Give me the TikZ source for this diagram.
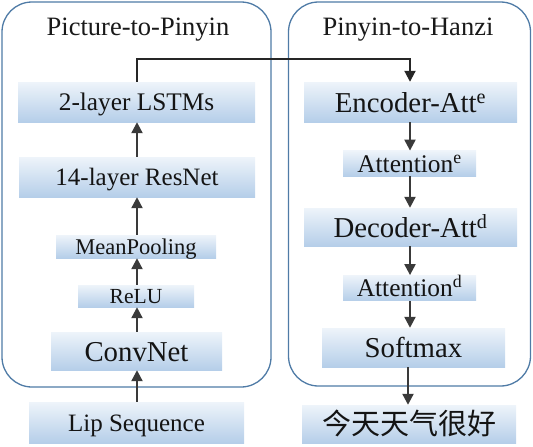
\documentclass[tikz,border=0pt]{standalone}
\usepackage{fontspec}
\setmainfont{Liberation Serif}
\newfontfamily\cjkfont{Noto Sans CJK SC}
\usetikzlibrary{arrows.meta}
\definecolor{panelc}{HTML}{4F7BA6}
\definecolor{boxtop}{HTML}{EEF4FA}
\definecolor{boxbot}{HTML}{B5CEE9}
\definecolor{arrc}{HTML}{3A3A3A}
\newcommand{\fsz}[1]{\fontsize{#1}{#1}\selectfont}
\tikzset{
  panel/.style={draw=panelc, line width=1.3pt, rounded corners=30pt, inner sep=0pt},
  box/.style={top color=boxtop, bottom color=boxbot, inner sep=0pt, text=black!92, align=center},
  tb/.style={font=\fsz{#1},
    /utils/exec={\pgfmathsetmacro\mytxtht{0.85*#1}\pgfmathsetmacro\mytxtdp{0.15*#1}},
    text height=\mytxtht pt, text depth=\mytxtdp pt},
  ttl/.style={font=\fsz{26.5}, text=black!90, anchor=base},
  flow/.style={draw=arrc, line width=2.2pt, -{Triangle[width=11pt,length=11pt]}},
  link/.style={draw=black, line width=2pt, -{Triangle[width=11pt,length=11pt]}, color=black!85},
}
\begin{document}
\begin{tikzpicture}[x=1pt,y=-1pt]
\useasboundingbox (0,0) rectangle (533,447);
% panels
\node[panel, minimum width=269pt, minimum height=385pt] (lpanel) at (136.5,194.5) {};
\node[panel, minimum width=242pt, minimum height=384pt] (rpanel) at (409.5,194) {};
\node[ttl] (ltitle) at (138,35) {Picture-to-Pinyin};
\node[ttl] (rtitle) at (408,35) {Pinyin-to-Hanzi};
% left column
\node[box, tb=25.3, minimum width=237pt, minimum height=40pt] (lstm) at (136.5,102) {2-layer LSTMs};
\node[box, tb=25, minimum width=236pt, minimum height=40pt] (resnet) at (137,177) {14-layer ResNet};
\node[box, tb=22.5, minimum width=160pt, minimum height=23pt] (pool) at (136,246.5) {MeanPooling};
\node[box, tb=21.5, minimum width=116pt, minimum height=22pt] (relu) at (136,296) {ReLU};
\node[box, tb=28.8, minimum width=171pt, minimum height=38pt] (conv) at (136.5,351) {ConvNet};
\node[box, tb=25, minimum width=215pt, minimum height=41pt] (lip) at (136.5,422.5) {Lip Sequence};
% right column
\node[box, tb=28.8, minimum width=213pt, minimum height=40pt] (enc) at (410.5,102) {Encoder-Att\textsuperscript{e}};
\node[box, tb=25.4, minimum width=133pt, minimum height=23pt] (atte) at (409.5,163.5) {Attention\textsuperscript{e}};
\node[box, tb=28.8, minimum width=213pt, minimum height=38pt] (dec) at (410.5,227) {Decoder-Att\textsuperscript{d}};
\node[box, tb=25.4, minimum width=133pt, minimum height=22pt] (attd) at (409.5,288) {Attention\textsuperscript{d}};
\node[box, tb=28.8, minimum width=183pt, minimum height=39pt] (soft) at (413.5,347.5) {Softmax};
\node[box, tb=29, minimum width=214pt, minimum height=38pt] (out) at (409,424) {\cjkfont 今天天气很好};
% connectors
\draw[flow] (resnet.north -| 137,0) -- (lstm.south -| 137,0);
\draw[flow] (pool.north -| 137,0) -- (resnet.south -| 137,0);
\draw[flow] (relu.north -| 137,0) -- (pool.south -| 137,0);
\draw[flow] (conv.north -| 137,0) -- (relu.south -| 137,0);
\draw[flow] (lip.north -| 137,0) -- (conv.south -| 137,0);
\draw[link] (lstm.north -| 137,0) -- (137,59) -- (410,59) -- (enc.north -| 410,0);
\draw[flow] (enc.south -| 410,0) -- (atte.north -| 410,0);
\draw[flow] (atte.south -| 410,0) -- (dec.north -| 410,0);
\draw[flow] (dec.south -| 410,0) -- (attd.north -| 410,0);
\draw[flow] (attd.south -| 410,0) -- (soft.north -| 410,0);
\draw[flow] (soft.south -| 408,0) -- (out.north -| 408,0);
\end{tikzpicture}
\end{document}
